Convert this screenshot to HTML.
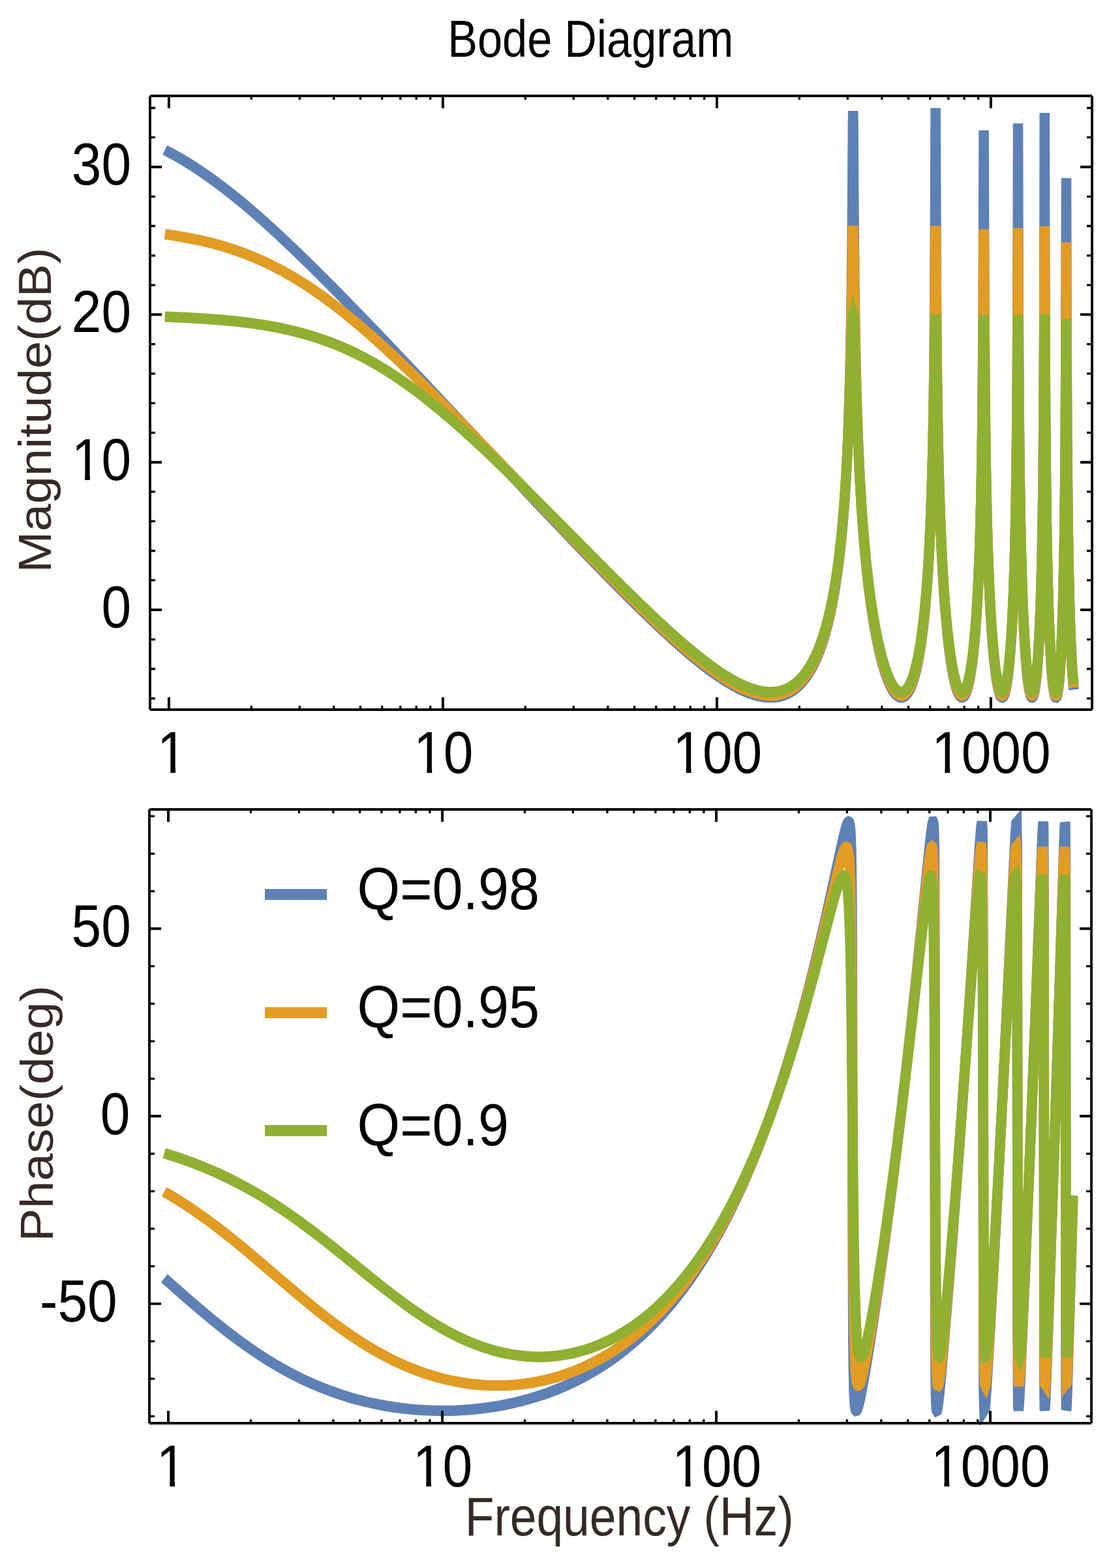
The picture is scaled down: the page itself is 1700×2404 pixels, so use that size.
<!DOCTYPE html>
<html><head><meta charset="utf-8"><title>Bode Diagram</title><style>
html,body{margin:0;padding:0;background:#fff;}
body{width:1700px;height:2404px;overflow:hidden;}
svg{display:block;}
text{font-family:"Liberation Sans",Arial,Helvetica,sans-serif;}
</style></head><body>
<svg width="1700" height="2404" viewBox="0 0 1700 2404">
<defs><clipPath id="cm"><rect x="230" y="147" width="1444" height="941"/></clipPath><clipPath id="cp"><rect x="229" y="1239" width="1444" height="947"/></clipPath></defs>
<g clip-path="url(#cm)"><g transform="scale(1 1.0500)" fill="none" stroke-width="15.50" stroke-linejoin="miter" stroke-miterlimit="4" stroke-linecap="butt">
<path stroke="#5e81b5" d="M252.70 218.89 L264.09 224.66 L275.70 230.92 L287.08 237.42 L298.70 244.42 L310.31 251.78 L322.16 259.66 L334.24 268.05 L346.32 276.79 L358.63 286.04 L371.41 295.98 L384.42 306.44 L397.66 317.40 L425.76 341.61 L456.19 369.02 L482.68 393.68 L511.71 421.39 L543.54 452.37 L579.54 487.97 L650.86 559.54 L829.26 740.15 L872.93 783.91 L910.10 820.69 L946.10 855.70 L977.70 885.66 L1006.04 911.66 L1031.59 934.13 L1044.60 945.11 L1057.14 955.34 L1068.99 964.63 L1080.37 973.16 L1091.29 980.92 L1101.51 987.76 L1111.50 994.00 L1121.02 999.47 L1130.08 1004.19 L1138.91 1008.27 L1147.50 1011.70 L1155.63 1014.37 L1163.53 1016.38 L1170.97 1017.67 L1178.17 1018.30 L1185.14 1018.26 L1189.78 1017.84 L1194.43 1017.07 L1198.84 1016.00 L1203.02 1014.64 L1207.20 1012.93 L1211.39 1010.83 L1215.33 1008.46 L1219.28 1005.69 L1223.00 1002.67 L1226.72 999.24 L1230.20 995.60 L1233.69 991.51 L1237.17 986.95 L1240.42 982.22 L1243.67 976.98 L1246.69 971.62 L1252.50 959.81 L1258.08 946.29 L1263.19 931.59 L1268.07 915.05 L1272.48 897.44 L1276.66 877.86 L1280.38 857.46 L1283.86 835.03 L1286.88 812.26 L1289.67 787.64 L1291.99 763.67 L1294.32 735.49 L1296.41 705.27 L1298.26 673.01 L1299.86 639.52 L1301.27 603.65 L1303.47 527.42 L1305.13 438.30 L1306.20 346.94 L1307.35 186.33 L1307.70 162.10 L1308.05 186.33 L1308.96 319.55 L1309.88 411.06 L1311.09 490.76 L1312.63 560.29 L1314.72 626.63 L1317.31 685.97 L1320.56 741.34 L1324.28 789.58 L1326.60 814.43 L1329.16 838.34 L1331.95 861.22 L1334.97 882.96 L1338.22 903.51 L1341.47 921.60 L1345.19 939.71 L1348.90 955.49 L1352.85 969.98 L1357.03 983.05 L1361.22 993.96 L1365.40 1002.82 L1367.49 1006.50 L1369.58 1009.70 L1371.67 1012.40 L1373.76 1014.61 L1375.85 1016.32 L1377.94 1017.52 L1380.03 1018.21 L1382.12 1018.36 L1383.98 1018.03 L1385.61 1017.37 L1387.47 1016.19 L1389.09 1014.75 L1390.95 1012.64 L1392.58 1010.35 L1395.83 1004.47 L1398.85 997.30 L1401.87 988.27 L1404.66 978.04 L1407.44 965.71 L1410.00 952.25 L1412.32 937.87 L1414.64 921.06 L1416.73 903.39 L1418.59 885.21 L1420.45 864.14 L1422.08 842.70 L1423.70 817.67 L1426.26 768.04 L1428.35 712.47 L1429.96 653.14 L1431.24 586.04 L1432.21 511.49 L1432.95 424.93 L1434.14 157.62 L1435.24 412.45 L1435.88 495.03 L1436.70 566.60 L1437.84 634.99 L1439.27 695.85 L1440.89 747.35 L1442.98 797.52 L1445.77 847.88 L1448.79 889.30 L1452.28 926.07 L1454.13 942.12 L1456.22 957.79 L1458.32 971.25 L1460.64 983.93 L1462.96 994.42 L1465.28 1002.92 L1467.61 1009.51 L1469.93 1014.27 L1471.32 1016.26 L1472.49 1017.42 L1473.65 1018.13 L1474.81 1018.37 L1475.97 1018.15 L1476.90 1017.62 L1478.06 1016.53 L1478.99 1015.29 L1481.08 1011.28 L1483.17 1005.46 L1485.26 997.65 L1487.12 988.84 L1488.98 978.04 L1490.60 966.74 L1492.23 953.42 L1493.86 937.74 L1496.64 903.89 L1498.97 866.36 L1501.06 821.41 L1502.68 774.70 L1504.08 720.79 L1505.17 662.89 L1506.04 597.44 L1507.20 446.99 L1508.09 190.38 L1508.94 438.30 L1509.97 582.84 L1510.76 648.54 L1511.74 707.02 L1512.90 758.39 L1514.30 805.34 L1516.16 852.94 L1518.25 893.69 L1520.57 928.53 L1523.36 960.21 L1524.75 972.84 L1526.38 985.30 L1528.00 995.55 L1529.63 1003.78 L1531.26 1010.12 L1532.88 1014.64 L1533.81 1016.43 L1534.74 1017.64 L1535.67 1018.27 L1536.37 1018.36 L1537.30 1017.97 L1537.99 1017.28 L1539.39 1014.86 L1541.01 1010.20 L1542.41 1004.53 L1543.80 997.16 L1545.19 987.92 L1547.75 965.30 L1550.07 936.65 L1552.16 901.71 L1554.02 859.83 L1555.41 818.08 L1556.58 772.43 L1557.51 724.33 L1558.39 662.28 L1559.08 591.56 L1559.93 438.70 L1560.57 180.29 L1561.18 430.89 L1561.94 578.04 L1563.31 707.08 L1564.24 761.12 L1565.17 802.57 L1566.57 850.47 L1568.19 892.68 L1570.05 929.29 L1572.14 960.28 L1574.46 985.41 L1575.62 994.99 L1577.02 1004.15 L1578.18 1009.99 L1579.57 1014.94 L1580.27 1016.60 L1580.97 1017.71 L1581.66 1018.29 L1582.13 1018.37 L1582.83 1018.03 L1583.52 1017.14 L1584.68 1014.39 L1585.85 1009.98 L1587.01 1003.81 L1589.10 987.72 L1591.19 963.95 L1593.05 934.37 L1594.67 899.35 L1596.07 859.34 L1597.23 815.09 L1598.85 722.10 L1600.13 584.54 L1600.79 427.08 L1601.27 164.76 L1601.96 493.82 L1602.51 600.23 L1603.27 689.22 L1604.43 774.02 L1605.82 840.51 L1607.45 894.22 L1609.54 942.21 L1611.86 978.24 L1613.02 991.26 L1614.19 1001.49 L1615.35 1009.19 L1616.74 1015.31 L1617.44 1017.13 L1618.13 1018.14 L1618.83 1018.34 L1619.53 1017.73 L1620.23 1016.27 L1620.92 1013.97 L1622.08 1008.12 L1623.48 997.55 L1624.64 985.40 L1626.73 954.12 L1628.59 912.42 L1629.98 867.82 L1631.14 816.20 L1632.07 758.40 L1632.77 697.33 L1633.79 537.34 L1634.53 260.10 L1635.07 482.89 L1635.53 596.03 L1636.25 695.91 L1637.42 790.77 L1639.04 870.97 L1640.90 929.24 L1642.06 955.26 L1643.22 975.62 L1644.62 994.05 L1646.01 1006.94"/>
<path stroke="#e19c24" d="M252.70 342.03 L271.98 344.73 L290.34 347.79 L307.99 351.26 L324.95 355.13 L341.44 359.46 L357.47 364.24 L373.03 369.48 L388.36 375.25 L403.70 381.63 L418.79 388.56 L433.89 396.12 L448.99 404.32 L464.09 413.16 L479.42 422.76 L494.99 433.14 L510.78 444.29 L525.65 455.31 L540.75 467.00 L556.31 479.51 L572.57 493.06 L589.30 507.43 L606.95 523.03 L625.54 539.87 L645.05 557.93 L681.52 592.53 L723.80 633.63 L766.77 676.06 L877.11 785.77 L907.78 815.94 L934.49 841.91 L963.53 869.66 L989.31 893.71 L1012.77 914.93 L1034.14 933.53 L1046.69 944.04 L1058.54 953.65 L1069.92 962.52 L1080.84 970.67 L1091.06 977.93 L1101.05 984.62 L1110.57 990.60 L1119.86 995.98 L1128.69 1000.64 L1137.28 1004.71 L1145.41 1008.06 L1153.31 1010.81 L1160.98 1012.94 L1168.18 1014.40 L1175.38 1015.28 L1182.12 1015.51 L1186.53 1015.31 L1190.71 1014.86 L1194.89 1014.12 L1199.07 1013.07 L1203.02 1011.78 L1206.97 1010.18 L1210.69 1008.35 L1214.41 1006.20 L1218.12 1003.69 L1221.61 1001.00 L1225.09 997.95 L1228.34 994.75 L1231.60 991.18 L1234.85 987.21 L1240.89 978.67 L1246.69 968.80 L1252.04 958.02 L1257.15 945.91 L1262.03 932.37 L1266.67 917.30 L1270.85 901.52 L1274.80 884.26 L1278.52 865.41 L1281.54 847.78 L1284.56 827.56 L1287.35 806.00 L1289.90 783.12 L1292.22 758.96 L1294.32 733.65 L1296.17 707.41 L1298.03 676.44 L1300.80 617.27 L1303.05 549.63 L1304.85 472.50 L1306.89 353.70 L1307.70 329.62 L1308.51 353.70 L1310.33 462.70 L1311.75 530.16 L1313.33 587.37 L1315.19 638.86 L1317.54 689.30 L1320.56 739.43 L1324.05 784.60 L1328.00 825.35 L1330.55 847.56 L1333.11 867.26 L1335.90 886.41 L1338.68 903.50 L1341.70 920.04 L1344.96 935.87 L1348.21 949.89 L1351.69 963.13 L1355.18 974.69 L1358.89 985.32 L1362.61 994.29 L1366.56 1002.08 L1368.42 1005.13 L1370.51 1008.11 L1372.37 1010.34 L1374.22 1012.18 L1376.08 1013.62 L1377.94 1014.66 L1379.80 1015.30 L1381.66 1015.51 L1383.28 1015.35 L1384.91 1014.84 L1386.54 1013.98 L1388.16 1012.76 L1391.18 1009.48 L1394.20 1004.79 L1396.99 999.07 L1399.78 991.89 L1402.56 983.05 L1405.12 973.31 L1407.68 961.76 L1410.00 949.44 L1412.09 936.62 L1414.18 921.87 L1416.04 906.84 L1417.90 889.63 L1421.15 852.72 L1423.94 811.29 L1426.26 765.88 L1428.12 717.95 L1429.73 662.27 L1430.93 605.66 L1431.93 541.79 L1432.76 468.25 L1433.73 353.70 L1434.14 329.62 L1434.54 353.70 L1436.19 532.26 L1437.03 590.89 L1438.02 643.57 L1439.27 694.56 L1440.89 745.37 L1442.75 790.26 L1444.84 830.14 L1447.63 871.96 L1450.65 907.37 L1454.13 939.33 L1455.99 953.35 L1457.85 965.61 L1459.94 977.53 L1462.03 987.63 L1464.12 996.07 L1466.21 1002.93 L1468.30 1008.27 L1470.63 1012.49 L1471.79 1013.92 L1472.72 1014.74 L1473.88 1015.35 L1474.81 1015.51 L1475.97 1015.29 L1476.90 1014.77 L1478.76 1012.78 L1480.62 1009.47 L1482.47 1004.76 L1484.33 998.53 L1486.19 990.63 L1487.82 982.20 L1489.44 972.17 L1492.46 948.53 L1495.25 919.30 L1497.57 887.40 L1499.66 850.21 L1501.52 806.94 L1502.92 764.66 L1504.08 719.12 L1505.17 662.27 L1506.60 545.31 L1507.79 359.06 L1508.09 334.95 L1508.40 359.06 L1509.52 538.44 L1510.77 648.81 L1511.74 705.55 L1512.67 747.22 L1514.07 795.96 L1515.46 834.09 L1517.32 874.23 L1519.41 909.50 L1521.73 940.09 L1524.29 966.02 L1527.07 987.11 L1528.47 995.26 L1530.09 1002.93 L1531.49 1008.02 L1533.11 1012.29 L1534.74 1014.78 L1535.44 1015.31 L1536.13 1015.51 L1536.83 1015.38 L1537.53 1014.92 L1538.92 1012.97 L1540.32 1009.59 L1541.71 1004.71 L1543.10 998.22 L1544.26 991.45 L1546.82 971.64 L1548.91 949.29 L1551.00 919.63 L1552.86 884.75 L1554.49 844.54 L1555.65 807.47 L1556.81 759.49 L1558.44 657.40 L1559.47 541.57 L1560.57 333.24 L1561.64 539.34 L1562.62 653.03 L1564.24 759.02 L1565.17 800.18 L1566.33 840.81 L1567.73 879.09 L1569.35 913.98 L1571.21 944.83 L1573.07 968.55 L1575.16 988.53 L1576.32 997.03 L1577.48 1003.83 L1578.64 1009.03 L1579.81 1012.70 L1580.97 1014.85 L1581.66 1015.43 L1582.13 1015.51 L1582.83 1015.17 L1583.29 1014.64 L1584.45 1012.21 L1585.61 1008.15 L1586.54 1003.65 L1588.63 989.06 L1590.49 970.03 L1592.35 943.77 L1593.98 912.87 L1595.37 878.08 L1596.53 840.54 L1597.46 802.15 L1598.39 752.12 L1599.60 653.40 L1600.41 537.76 L1601.27 330.48 L1602.42 588.26 L1603.04 665.54 L1603.96 742.74 L1605.13 808.06 L1606.75 870.80 L1608.61 920.35 L1610.93 962.77 L1613.02 988.42 L1614.19 998.65 L1615.35 1006.34 L1616.51 1011.66 L1617.21 1013.76 L1617.90 1015.04 L1618.60 1015.51 L1619.06 1015.37 L1619.76 1014.48 L1620.23 1013.42 L1621.39 1009.08 L1622.55 1002.20 L1623.71 992.54 L1624.64 982.57 L1626.50 955.48 L1628.36 915.80 L1629.75 873.65 L1630.91 825.46 L1631.84 772.59 L1632.54 718.45 L1633.58 586.48 L1634.53 353.90 L1635.78 636.12 L1636.49 717.64 L1637.65 802.48 L1639.27 877.04 L1641.13 932.18 L1642.29 956.93 L1643.45 976.29 L1644.62 991.21 L1646.01 1004.09"/>
<path stroke="#8fb032" d="M252.70 462.47 L284.53 463.73 L313.33 465.30 L339.58 467.20 L363.97 469.47 L386.74 472.15 L408.34 475.28 L428.78 478.89 L448.30 483.00 L467.34 487.73 L485.70 493.03 L503.58 498.96 L521.24 505.60 L538.43 512.88 L555.62 520.96 L572.81 529.88 L590.00 539.61 L605.56 549.12 L621.12 559.28 L637.15 570.37 L653.65 582.41 L670.60 595.41 L688.02 609.36 L706.14 624.44 L725.19 640.83 L741.92 655.62 L759.34 671.36 L798.36 707.60 L836.69 744.07 L929.84 833.68 L954.47 857.04 L976.07 877.21 L999.07 898.22 L1019.97 916.76 L1039.26 933.25 L1056.91 947.68 L1076.65 962.87 L1085.95 969.59 L1094.77 975.69 L1103.37 981.33 L1111.73 986.49 L1119.86 991.16 L1127.53 995.23 L1135.19 998.93 L1142.39 1002.03 L1149.36 1004.65 L1156.10 1006.79 L1162.60 1008.46 L1169.11 1009.69 L1175.15 1010.40 L1181.19 1010.65 L1185.14 1010.54 L1189.09 1010.21 L1193.03 1009.62 L1196.75 1008.84 L1200.47 1007.80 L1204.18 1006.49 L1207.67 1005.01 L1211.15 1003.25 L1214.64 1001.21 L1217.89 999.02 L1224.16 993.97 L1230.20 987.94 L1236.01 980.90 L1241.58 972.81 L1246.69 964.06 L1251.81 953.83 L1256.45 943.02 L1261.10 930.52 L1265.28 917.54 L1269.23 903.50 L1272.94 888.37 L1276.20 873.32 L1279.45 856.20 L1282.24 839.54 L1285.02 820.64 L1287.58 800.87 L1289.90 780.40 L1291.99 759.42 L1294.08 735.42 L1297.34 689.94 L1299.98 642.44 L1302.55 583.09 L1306.22 478.92 L1307.00 464.10 L1307.36 460.54 L1307.70 459.37 L1308.06 460.66 L1308.43 464.49 L1309.24 480.61 L1312.63 580.89 L1314.75 634.44 L1316.62 673.38 L1318.71 710.12 L1321.49 750.73 L1324.75 789.54 L1328.46 825.97 L1332.41 858.06 L1334.73 874.49 L1337.29 890.84 L1340.08 906.91 L1342.86 921.37 L1345.65 934.40 L1348.67 947.08 L1351.69 958.41 L1354.94 969.22 L1358.20 978.67 L1361.45 986.85 L1364.70 993.81 L1368.19 999.93 L1371.67 1004.70 L1374.92 1007.91 L1376.78 1009.20 L1378.41 1010.00 L1380.03 1010.48 L1381.66 1010.65 L1383.28 1010.48 L1384.68 1010.07 L1387.47 1008.47 L1390.25 1005.78 L1393.04 1001.92 L1395.83 996.79 L1398.38 990.86 L1400.94 983.62 L1403.26 975.79 L1405.58 966.61 L1407.68 957.05 L1409.77 946.09 L1411.86 933.53 L1415.57 906.33 L1418.83 875.84 L1421.61 842.69 L1423.94 807.97 L1426.03 768.63 L1427.88 723.99 L1429.28 681.46 L1430.43 637.73 L1431.62 580.57 L1433.31 483.23 L1434.14 459.33 L1434.96 483.23 L1437.03 602.57 L1438.80 679.16 L1440.89 743.80 L1443.22 796.84 L1444.84 826.51 L1446.47 851.83 L1448.33 876.67 L1450.42 900.52 L1452.74 922.95 L1455.06 941.93 L1457.62 959.45 L1460.17 973.97 L1462.26 983.85 L1464.59 992.90 L1466.91 1000.03 L1469.23 1005.33 L1470.39 1007.29 L1471.56 1008.81 L1472.72 1009.88 L1473.88 1010.49 L1475.04 1010.64 L1476.20 1010.32 L1477.36 1009.53 L1478.53 1008.24 L1479.69 1006.44 L1480.85 1004.11 L1482.94 998.51 L1485.03 990.96 L1486.89 982.41 L1488.75 971.92 L1490.60 959.20 L1492.46 943.87 L1494.09 927.92 L1496.88 893.49 L1499.20 855.33 L1501.29 809.69 L1502.92 762.45 L1504.31 708.48 L1505.32 656.92 L1506.30 590.35 L1507.54 483.83 L1508.09 460.00 L1508.65 483.83 L1510.57 640.59 L1512.21 726.70 L1513.37 770.78 L1514.76 812.67 L1516.39 851.44 L1518.25 886.66 L1520.57 921.21 L1522.89 948.08 L1525.68 972.65 L1528.47 990.44 L1529.86 997.12 L1531.49 1003.18 L1532.88 1006.93 L1534.51 1009.67 L1535.44 1010.45 L1536.13 1010.65 L1536.83 1010.52 L1537.53 1010.06 L1538.46 1008.91 L1539.15 1007.65 L1540.55 1004.04 L1542.64 995.74 L1544.73 983.58 L1546.59 969.00 L1548.45 950.13 L1550.07 929.28 L1551.70 903.22 L1553.09 875.43 L1554.25 847.08 L1556.11 787.01 L1557.74 708.47 L1558.79 632.01 L1560.15 483.83 L1560.57 460.00 L1560.99 483.83 L1562.39 637.60 L1563.55 719.94 L1565.17 797.08 L1567.26 863.24 L1568.66 895.70 L1570.28 925.86 L1571.91 949.78 L1573.77 971.17 L1575.86 989.03 L1577.95 1001.25 L1578.88 1005.04 L1580.04 1008.39 L1581.20 1010.24 L1582.13 1010.64 L1582.83 1010.31 L1583.29 1009.78 L1584.22 1007.97 L1585.15 1005.13 L1586.08 1001.20 L1587.94 989.84 L1589.56 975.56 L1591.19 956.43 L1592.81 931.21 L1594.21 903.25 L1595.37 873.87 L1597.23 809.29 L1598.85 719.88 L1599.81 636.34 L1600.94 483.23 L1601.27 459.33 L1601.60 483.23 L1602.75 639.35 L1603.73 725.45 L1605.13 804.80 L1606.98 873.83 L1608.15 905.11 L1609.54 934.81 L1610.93 958.05 L1612.56 978.79 L1614.19 993.82 L1615.81 1003.90 L1616.51 1006.81 L1617.44 1009.41 L1618.37 1010.58 L1618.83 1010.62 L1619.30 1010.30 L1620.23 1008.56 L1620.92 1006.26 L1622.55 997.37 L1623.94 985.44 L1625.34 968.87 L1626.50 950.80 L1627.66 927.91 L1629.75 869.49 L1631.38 797.99 L1632.54 718.00 L1633.27 640.97 L1634.21 489.53 L1634.53 465.71 L1634.84 489.53 L1635.56 611.86 L1636.25 695.47 L1637.18 770.75 L1638.34 834.94 L1639.74 888.76 L1641.60 938.18 L1643.69 974.83 L1644.85 988.91 L1646.01 999.25"/>
</g></g>
<g clip-path="url(#cp)"><g transform="scale(1 1.0500)" fill="none" stroke-width="15.50" stroke-linejoin="miter" stroke-miterlimit="4" stroke-linecap="butt">
<path stroke="#5e81b5" d="M251.80 1866.40 L284.32 1893.72 L307.32 1912.62 L328.46 1929.41 L347.97 1944.23 L367.49 1958.28 L386.30 1971.00 L404.89 1982.71 L423.47 1993.55 L442.75 2003.85 L462.03 2013.18 L481.54 2021.67 L501.06 2029.22 L521.03 2036.00 L541.24 2041.93 L561.69 2047.01 L582.36 2051.25 L593.74 2053.21 L605.12 2054.91 L616.74 2056.39 L628.35 2057.60 L639.97 2058.56 L651.58 2059.27 L663.20 2059.72 L675.05 2059.92 L686.89 2059.86 L698.51 2059.55 L710.12 2058.98 L721.74 2058.16 L733.35 2057.08 L744.73 2055.76 L756.12 2054.18 L767.50 2052.33 L778.65 2050.26 L789.57 2047.97 L800.48 2045.41 L811.17 2042.63 L821.86 2039.58 L832.31 2036.32 L842.53 2032.86 L852.75 2029.12 L862.74 2025.18 L872.73 2020.95 L882.49 2016.52 L892.01 2011.90 L901.53 2006.98 L910.83 2001.87 L920.12 1996.45 L929.18 1990.86 L944.74 1980.47 L959.84 1969.41 L974.71 1957.48 L989.11 1944.89 L1003.28 1931.41 L1016.98 1917.28 L1030.46 1902.26 L1043.70 1886.33 L1056.47 1869.78 L1069.02 1852.32 L1081.33 1833.94 L1093.41 1814.63 L1105.26 1794.39 L1116.64 1773.64 L1127.79 1751.99 L1138.94 1728.97 L1149.39 1706.06 L1159.61 1682.34 L1169.60 1657.83 L1179.36 1632.56 L1189.11 1605.90 L1198.64 1578.46 L1207.93 1550.29 L1217.22 1520.65 L1224.89 1495.07 L1232.55 1468.41 L1239.99 1441.50 L1247.42 1413.52 L1256.48 1377.96 L1265.77 1339.83 L1274.60 1302.16 L1288.77 1240.12 L1293.18 1221.62 L1295.74 1211.87 L1297.83 1205.07 L1299.49 1201.14 L1300.21 1200.15 L1300.84 1199.78 L1301.35 1199.98 L1301.82 1200.66 L1302.64 1203.50 L1303.33 1208.41 L1303.91 1215.57 L1304.80 1237.52 L1305.44 1272.12 L1305.91 1323.91 L1306.26 1399.25 L1307.22 1821.94 L1307.85 1957.40 L1308.40 2004.07 L1309.17 2034.17 L1309.67 2044.33 L1310.27 2051.80 L1310.99 2056.79 L1311.85 2059.42 L1312.37 2059.91 L1312.95 2059.77 L1313.58 2059.02 L1314.28 2057.63 L1315.95 2052.68 L1317.81 2045.49 L1320.13 2035.02 L1322.92 2021.13 L1329.65 1984.11 L1337.55 1936.91 L1345.91 1883.64 L1354.51 1825.77 L1363.10 1764.83 L1369.84 1714.91 L1376.58 1663.06 L1389.82 1555.35 L1397.25 1491.45 L1404.92 1422.95 L1425.36 1231.90 L1428.38 1207.73 L1429.37 1202.11 L1430.16 1199.85 L1430.43 1199.84 L1430.67 1200.34 L1431.10 1202.87 L1431.75 1214.40 L1432.22 1236.04 L1432.54 1270.32 L1432.96 1397.61 L1433.44 1821.94 L1433.77 1958.80 L1434.05 2005.39 L1434.44 2035.18 L1435.01 2052.43 L1435.38 2057.18 L1435.83 2059.58 L1436.06 2059.92 L1436.32 2059.80 L1436.89 2058.16 L1438.37 2049.06 L1440.46 2030.94 L1443.01 2005.43 L1451.14 1915.21 L1460.67 1800.85 L1469.96 1682.49 L1479.48 1554.55 L1487.85 1436.84 L1501.61 1236.88 L1503.41 1213.76 L1504.31 1204.53 L1505.21 1199.79 L1506.11 1210.68 L1507.01 1399.32 L1507.91 2028.10 L1508.81 2058.98 L1509.71 2057.66 L1510.61 2049.26 L1512.41 2025.65 L1517.35 1948.19 L1524.08 1833.40 L1531.05 1708.66 L1538.02 1578.73 L1554.98 1246.61 L1556.38 1221.27 L1557.78 1201.85 L1558.48 1201.07 L1559.18 1238.82 L1559.88 1927.08 L1560.58 2053.13 L1561.28 2059.58 L1561.98 2052.94 L1562.68 2042.26 L1564.08 2016.32 L1571.70 1851.05 L1582.39 1599.95 L1596.67 1245.61 L1598.17 1212.63 L1598.67 1204.21 L1599.17 1199.81 L1599.67 1207.93 L1600.17 1308.83 L1600.67 1997.83 L1601.17 2055.62 L1601.67 2059.52 L1602.67 2044.57 L1604.67 1997.15 L1607.71 1916.17 L1617.47 1638.34 L1630.43 1249.10 L1631.43 1221.61 L1632.43 1201.16 L1632.93 1203.12 L1633.43 1286.10 L1633.93 2014.33 L1634.43 2058.81 L1634.93 2057.16 L1635.43 2047.39 L1636.93 2005.97 L1644.71 1751.05"/>
<path stroke="#e19c24" d="M251.80 1739.96 L273.17 1752.25 L294.55 1765.58 L316.38 1780.22 L338.91 1796.35 L358.43 1811.05 L379.57 1827.60 L449.02 1883.97 L474.81 1904.45 L488.51 1914.98 L501.29 1924.51 L513.60 1933.38 L525.45 1941.60 L539.39 1950.84 L552.86 1959.30 L566.33 1967.27 L579.57 1974.60 L592.81 1981.43 L605.82 1987.63 L618.83 1993.33 L631.84 1998.52 L649.26 2004.69 L666.92 2010.02 L684.57 2014.44 L702.22 2017.94 L719.88 2020.55 L737.77 2022.27 L746.82 2022.80 L755.65 2023.08 L773.31 2022.97 L782.13 2022.57 L790.96 2021.95 L808.38 2020.04 L817.21 2018.72 L825.81 2017.20 L834.40 2015.45 L842.99 2013.47 L851.59 2011.24 L859.95 2008.84 L876.45 2003.41 L884.81 2000.28 L892.94 1997.00 L908.97 1989.79 L924.76 1981.68 L940.33 1972.65 L955.43 1962.86 L970.29 1952.14 L984.93 1940.49 L999.10 1928.09 L1013.03 1914.75 L1026.51 1900.71 L1039.75 1885.72 L1052.76 1869.79 L1065.53 1852.90 L1078.08 1835.02 L1090.39 1816.16 L1102.24 1796.71 L1113.85 1776.30 L1125.47 1754.51 L1135.92 1733.62 L1146.37 1711.48 L1156.59 1688.54 L1166.58 1664.82 L1176.34 1640.36 L1186.09 1614.54 L1195.62 1587.99 L1204.91 1560.72 L1214.20 1532.07 L1223.49 1501.97 L1232.55 1471.20 L1241.61 1439.00 L1249.05 1411.52 L1256.71 1382.22 L1281.34 1283.91 L1288.30 1257.68 L1291.32 1247.82 L1293.88 1241.05 L1295.04 1238.75 L1295.97 1237.41 L1296.90 1236.67 L1297.60 1236.60 L1298.34 1237.13 L1299.02 1238.30 L1300.22 1242.58 L1301.24 1249.59 L1302.12 1259.49 L1302.88 1272.61 L1303.53 1289.29 L1304.58 1335.05 L1305.28 1388.76 L1305.88 1461.50 L1307.98 1834.38 L1308.69 1903.91 L1309.56 1953.39 L1310.62 1986.47 L1311.27 1998.66 L1312.00 2008.15 L1312.84 2015.21 L1313.80 2020.00 L1314.34 2021.57 L1314.91 2022.60 L1315.48 2023.08 L1316.18 2023.06 L1316.88 2022.49 L1317.57 2021.48 L1318.97 2018.42 L1320.83 2012.74 L1322.68 2005.80 L1327.10 1986.04 L1332.44 1958.35 L1338.71 1922.58 L1345.45 1881.35 L1352.65 1834.66 L1360.08 1783.90 L1367.05 1734.07 L1374.02 1682.11 L1380.99 1628.05 L1388.19 1569.97 L1400.27 1467.65 L1418.16 1308.12 L1422.80 1268.58 L1424.66 1254.50 L1426.29 1244.11 L1427.68 1237.99 L1428.15 1236.92 L1428.61 1236.57 L1428.98 1236.97 L1429.32 1238.02 L1429.93 1242.14 L1430.44 1249.01 L1430.89 1258.83 L1431.59 1288.57 L1432.12 1334.35 L1432.77 1460.65 L1433.83 1834.38 L1434.61 1952.90 L1435.14 1985.96 L1435.83 2007.62 L1436.72 2019.67 L1437.27 2022.43 L1437.54 2022.99 L1437.90 2023.11 L1438.37 2022.43 L1439.06 2020.08 L1440.69 2010.64 L1442.55 1996.00 L1444.64 1976.86 L1450.45 1916.46 L1457.65 1834.04 L1466.24 1728.97 L1475.30 1611.82 L1482.97 1508.15 L1499.46 1279.17 L1502.34 1246.28 L1503.34 1238.82 L1503.84 1236.86 L1504.34 1236.90 L1504.84 1240.18 L1505.34 1249.16 L1505.84 1269.48 L1506.34 1316.73 L1506.84 1442.88 L1507.84 1907.94 L1508.34 1976.75 L1508.84 2004.84 L1509.34 2017.24 L1509.84 2022.19 L1510.34 2023.09 L1510.84 2021.53 L1511.84 2014.14 L1514.10 1987.62 L1517.35 1940.06 L1521.76 1868.83 L1527.80 1765.23 L1534.54 1644.09 L1553.59 1284.63 L1556.02 1246.59 L1557.02 1237.42 L1557.52 1236.84 L1558.02 1242.06 L1558.52 1260.02 L1559.02 1314.29 L1559.52 1512.91 L1560.02 1859.30 L1560.52 1975.26 L1561.02 2009.62 L1561.52 2020.94 L1562.02 2023.11 L1562.52 2020.79 L1563.02 2015.92 L1565.02 1984.95 L1570.31 1877.31 L1579.84 1660.96 L1594.84 1299.98 L1596.94 1255.39 L1597.64 1243.87 L1598.34 1236.97 L1599.04 1241.79 L1599.74 1292.55 L1600.44 1700.44 L1601.14 1986.53 L1601.84 2020.77 L1602.54 2021.76 L1603.24 2013.10 L1604.64 1985.45 L1608.41 1891.34 L1615.84 1685.00 L1629.40 1289.94 L1631.20 1246.68 L1632.10 1236.57 L1633.00 1275.09 L1633.90 1880.96 L1634.80 2019.67 L1635.70 2018.63 L1637.50 1977.17 L1640.46 1887.68 L1644.71 1749.05"/>
<path stroke="#8fb032" d="M251.80 1683.82 L272.94 1690.27 L293.62 1697.28 L313.59 1704.76 L333.34 1712.88 L352.62 1721.55 L371.67 1730.88 L390.72 1740.97 L409.53 1751.72 L425.79 1761.61 L442.52 1772.36 L459.48 1783.81 L477.36 1796.44 L492.93 1807.83 L510.12 1820.76 L566.56 1864.30 L587.70 1880.35 L609.31 1896.17 L629.05 1909.91 L640.43 1917.43 L651.58 1924.49 L662.27 1930.93 L672.95 1937.05 L683.41 1942.69 L693.63 1947.87 L703.85 1952.70 L714.07 1957.18 L727.31 1962.45 L740.32 1967.01 L753.33 1970.95 L766.34 1974.27 L779.35 1976.96 L792.12 1978.97 L805.13 1980.38 L817.91 1981.12 L830.68 1981.22 L843.46 1980.68 L856.00 1979.49 L868.55 1977.67 L880.86 1975.23 L893.17 1972.13 L905.48 1968.37 L917.56 1964.01 L931.96 1957.91 L946.13 1950.91 L960.07 1943.03 L973.78 1934.27 L987.25 1924.62 L1000.49 1914.09 L1013.50 1902.69 L1026.28 1890.40 L1038.82 1877.23 L1051.13 1863.19 L1063.21 1848.27 L1075.06 1832.48 L1086.67 1815.82 L1098.29 1797.92 L1109.44 1779.52 L1120.59 1759.86 L1130.34 1741.56 L1140.10 1722.20 L1149.62 1702.22 L1159.15 1681.12 L1168.44 1659.42 L1177.50 1637.15 L1186.56 1613.74 L1195.62 1589.15 L1204.68 1563.35 L1213.74 1536.29 L1222.80 1507.97 L1231.86 1478.38 L1246.26 1428.83 L1272.97 1331.81 L1277.62 1315.52 L1281.34 1303.27 L1285.28 1291.62 L1288.54 1283.86 L1289.93 1281.34 L1291.32 1279.50 L1292.49 1278.62 L1293.65 1278.52 L1294.58 1279.13 L1295.27 1280.10 L1296.20 1282.20 L1296.90 1284.52 L1298.29 1291.65 L1299.51 1301.70 L1300.56 1314.60 L1301.50 1330.73 L1303.09 1374.25 L1304.19 1423.14 L1305.20 1487.36 L1307.86 1729.14 L1308.88 1806.88 L1310.03 1868.89 L1311.35 1914.34 L1312.87 1945.64 L1313.75 1957.27 L1314.73 1966.52 L1315.95 1974.07 L1317.11 1978.37 L1317.81 1979.91 L1318.50 1980.84 L1319.20 1981.23 L1319.90 1981.17 L1320.59 1980.72 L1321.29 1979.93 L1322.68 1977.49 L1324.31 1973.48 L1325.94 1968.47 L1329.65 1954.34 L1334.07 1934.17 L1338.95 1909.01 L1344.52 1877.59 L1350.56 1841.07 L1356.83 1800.87 L1363.34 1757.03 L1369.84 1711.16 L1376.34 1663.37 L1383.08 1611.93 L1394.23 1522.75 L1413.51 1360.97 L1419.09 1316.56 L1421.64 1298.65 L1423.73 1286.61 L1425.36 1280.24 L1426.06 1278.80 L1426.52 1278.46 L1426.75 1278.50 L1427.22 1279.12 L1427.68 1280.56 L1428.38 1284.74 L1429.04 1291.81 L1429.62 1301.64 L1430.60 1330.73 L1431.39 1374.25 L1432.43 1486.92 L1434.26 1805.00 L1434.84 1867.14 L1435.49 1912.81 L1436.25 1944.32 L1437.18 1965.50 L1437.67 1972.09 L1438.37 1977.84 L1439.06 1980.60 L1439.30 1981.02 L1439.76 1981.25 L1440.23 1980.78 L1440.92 1979.05 L1442.32 1972.84 L1443.94 1962.46 L1446.03 1946.00 L1450.91 1899.99 L1457.18 1832.56 L1464.38 1748.63 L1472.51 1648.00 L1496.44 1333.74 L1499.93 1295.01 L1501.09 1285.35 L1502.24 1279.29 L1503.34 1279.66 L1504.44 1292.58 L1505.54 1337.41 L1506.64 1483.56 L1507.74 1776.53 L1508.84 1923.34 L1509.94 1968.01 L1511.04 1980.40 L1512.14 1979.96 L1513.40 1972.01 L1514.56 1960.77 L1517.35 1925.97 L1520.83 1874.81 L1525.94 1792.48 L1531.98 1688.94 L1551.50 1336.55 L1553.12 1310.62 L1554.52 1291.66 L1555.52 1281.88 L1556.02 1279.10 L1556.52 1278.60 L1557.02 1281.56 L1557.52 1290.13 L1558.02 1308.53 L1558.52 1345.87 L1559.02 1422.82 L1560.52 1875.17 L1561.02 1932.79 L1561.52 1960.87 L1562.02 1974.44 L1562.52 1980.14 L1563.02 1981.19 L1563.52 1979.27 L1564.02 1975.33 L1565.52 1956.41 L1567.52 1922.56 L1569.85 1877.73 L1577.74 1707.55 L1593.77 1338.42 L1595.12 1311.21 L1596.52 1288.01 L1597.22 1280.53 L1597.92 1278.81 L1598.62 1289.16 L1599.32 1330.65 L1600.02 1476.18 L1600.72 1783.77 L1601.42 1929.69 L1602.12 1971.05 L1602.82 1981.02 L1603.52 1978.76 L1604.92 1959.07 L1606.55 1925.55 L1608.41 1881.46 L1614.68 1715.62 L1627.78 1347.98 L1629.78 1300.01 L1630.78 1282.97 L1631.28 1278.76 L1631.78 1280.34 L1632.28 1293.46 L1632.78 1333.79 L1633.28 1452.33 L1634.28 1893.61 L1634.78 1955.47 L1635.28 1976.36 L1635.78 1981.25 L1636.28 1978.54 L1637.28 1962.24 L1638.28 1938.95 L1640.93 1864.17 L1644.71 1745.56"/>
</g></g>
<path d="M406 1371.4H501.2" stroke="#5e81b5" stroke-width="16.8"/>
<path d="M406 1552.6H501.2" stroke="#e19c24" stroke-width="16.8"/>
<path d="M406 1733.5H501.2" stroke="#8fb032" stroke-width="16.8"/>
<g stroke="#000" stroke-width="3.8" fill="none">
<path d="M230 147H1674M230 1088H1674M230 147V1088M1674 147V1088"/>
<path d="M229 1241H1673M229 2182H1673M229 1241V2182M1673 1241V2182"/>
<path stroke-width="3.9" d="M258.9 1088.0V1069.0M258.9 147.0V166.0M678.9 1088.0V1069.0M678.9 147.0V166.0M1098.9 1088.0V1069.0M1098.9 147.0V166.0M1518.9 1088.0V1069.0M1518.9 147.0V166.0M258.0 2182.0V2163.0M258.0 1241.0V1260.0M678.0 2182.0V2163.0M678.0 1241.0V1260.0M1098.0 2182.0V2163.0M1098.0 1241.0V1260.0M1518.0 2182.0V2163.0M1518.0 1241.0V1260.0M230.0 935.0H248.0M1674.0 935.0H1656.0M230.0 708.7H248.0M1674.0 708.7H1656.0M230.0 482.3H248.0M1674.0 482.3H1656.0M230.0 256.0H248.0M1674.0 256.0H1656.0M229.0 1998.9H247.0M1673.0 1998.9H1655.0M229.0 1711.3H247.0M1673.0 1711.3H1655.0M229.0 1423.8H247.0M1673.0 1423.8H1655.0"/>
<path stroke-width="3.3" d="M385.3 1088.0V1082.0M385.3 147.0V153.0M459.3 1088.0V1082.0M459.3 147.0V153.0M511.8 1088.0V1082.0M511.8 147.0V153.0M552.5 1088.0V1082.0M552.5 147.0V153.0M585.7 1088.0V1082.0M585.7 147.0V153.0M613.8 1088.0V1082.0M613.8 147.0V153.0M638.2 1088.0V1082.0M638.2 147.0V153.0M659.7 1088.0V1082.0M659.7 147.0V153.0M805.3 1088.0V1082.0M805.3 147.0V153.0M879.3 1088.0V1082.0M879.3 147.0V153.0M931.8 1088.0V1082.0M931.8 147.0V153.0M972.5 1088.0V1082.0M972.5 147.0V153.0M1005.7 1088.0V1082.0M1005.7 147.0V153.0M1033.8 1088.0V1082.0M1033.8 147.0V153.0M1058.2 1088.0V1082.0M1058.2 147.0V153.0M1079.7 1088.0V1082.0M1079.7 147.0V153.0M1225.3 1088.0V1082.0M1225.3 147.0V153.0M1299.3 1088.0V1082.0M1299.3 147.0V153.0M1351.8 1088.0V1082.0M1351.8 147.0V153.0M1392.5 1088.0V1082.0M1392.5 147.0V153.0M1425.7 1088.0V1082.0M1425.7 147.0V153.0M1453.8 1088.0V1082.0M1453.8 147.0V153.0M1478.2 1088.0V1082.0M1478.2 147.0V153.0M1499.7 1088.0V1082.0M1499.7 147.0V153.0M384.4 2182.0V2176.0M384.4 1241.0V1247.0M458.4 2182.0V2176.0M458.4 1241.0V1247.0M510.9 2182.0V2176.0M510.9 1241.0V1247.0M551.6 2182.0V2176.0M551.6 1241.0V1247.0M584.8 2182.0V2176.0M584.8 1241.0V1247.0M612.9 2182.0V2176.0M612.9 1241.0V1247.0M637.3 2182.0V2176.0M637.3 1241.0V1247.0M658.8 2182.0V2176.0M658.8 1241.0V1247.0M804.4 2182.0V2176.0M804.4 1241.0V1247.0M878.4 2182.0V2176.0M878.4 1241.0V1247.0M930.9 2182.0V2176.0M930.9 1241.0V1247.0M971.6 2182.0V2176.0M971.6 1241.0V1247.0M1004.8 2182.0V2176.0M1004.8 1241.0V1247.0M1032.9 2182.0V2176.0M1032.9 1241.0V1247.0M1057.3 2182.0V2176.0M1057.3 1241.0V1247.0M1078.8 2182.0V2176.0M1078.8 1241.0V1247.0M1224.4 2182.0V2176.0M1224.4 1241.0V1247.0M1298.4 2182.0V2176.0M1298.4 1241.0V1247.0M1350.9 2182.0V2176.0M1350.9 1241.0V1247.0M1391.6 2182.0V2176.0M1391.6 1241.0V1247.0M1424.8 2182.0V2176.0M1424.8 1241.0V1247.0M1452.9 2182.0V2176.0M1452.9 1241.0V1247.0M1477.3 2182.0V2176.0M1477.3 1241.0V1247.0M1498.8 2182.0V2176.0M1498.8 1241.0V1247.0M230.0 1070.8H238.0M1674.0 1070.8H1666.0M230.0 1025.5H238.0M1674.0 1025.5H1666.0M230.0 980.3H238.0M1674.0 980.3H1666.0M230.0 889.7H238.0M1674.0 889.7H1666.0M230.0 844.5H238.0M1674.0 844.5H1666.0M230.0 799.2H238.0M1674.0 799.2H1666.0M230.0 753.9H238.0M1674.0 753.9H1666.0M230.0 663.4H238.0M1674.0 663.4H1666.0M230.0 618.1H238.0M1674.0 618.1H1666.0M230.0 572.9H238.0M1674.0 572.9H1666.0M230.0 527.6H238.0M1674.0 527.6H1666.0M230.0 437.1H238.0M1674.0 437.1H1666.0M230.0 391.8H238.0M1674.0 391.8H1666.0M230.0 346.5H238.0M1674.0 346.5H1666.0M230.0 301.3H238.0M1674.0 301.3H1666.0M230.0 210.7H238.0M1674.0 210.7H1666.0M230.0 165.5H238.0M1674.0 165.5H1666.0M229.0 2171.4H237.0M1673.0 2171.4H1665.0M229.0 2113.9H237.0M1673.0 2113.9H1665.0M229.0 2056.4H237.0M1673.0 2056.4H1665.0M229.0 1941.4H237.0M1673.0 1941.4H1665.0M229.0 1883.9H237.0M1673.0 1883.9H1665.0M229.0 1826.4H237.0M1673.0 1826.4H1665.0M229.0 1768.9H237.0M1673.0 1768.9H1665.0M229.0 1653.8H237.0M1673.0 1653.8H1665.0M229.0 1596.3H237.0M1673.0 1596.3H1665.0M229.0 1538.8H237.0M1673.0 1538.8H1665.0M229.0 1481.3H237.0M1673.0 1481.3H1665.0M229.0 1366.3H237.0M1673.0 1366.3H1665.0M229.0 1308.8H237.0M1673.0 1308.8H1665.0M229.0 1251.3H237.0M1673.0 1251.3H1665.0"/>
</g>
<text transform="translate(686.30 87.46) scale(0.8696 1.0000)" font-size="78.8" fill="#000">Bode Diagram</text>
<text transform="translate(109.73 283.34) scale(0.9120 1.0000)" font-size="90.0" fill="#000">30</text>
<text transform="translate(109.73 509.04) scale(0.9120 1.0000)" font-size="90.0" fill="#000">20</text>
<text transform="translate(109.73 735.64) scale(0.9120 1.0000)" font-size="90.0" fill="#000">10</text>
<rect x="115.34" y="727.32" width="14.78" height="10.32" fill="#fff"/>
<rect x="137.87" y="727.32" width="14.99" height="10.32" fill="#fff"/>
<text transform="translate(155.56 962.34) scale(0.9120 1.0000)" font-size="90.0" fill="#000">0</text>
<text transform="translate(109.53 1451.34) scale(0.9120 1.0000)" font-size="90.0" fill="#000">50</text>
<text transform="translate(153.76 1738.64) scale(0.9120 1.0000)" font-size="90.0" fill="#000">0</text>
<text transform="translate(61.09 2026.44) scale(0.9120 1.0000)" font-size="90.0" fill="#000">-50</text>
<text transform="translate(240.86 1185.24) scale(0.9120 1.0000)" font-size="90.0" fill="#000">1</text>
<rect x="246.47" y="1176.92" width="14.78" height="10.32" fill="#fff"/>
<rect x="269.01" y="1176.92" width="14.99" height="10.32" fill="#fff"/>
<text transform="translate(634.03 1185.44) scale(0.9120 1.0000)" font-size="90.0" fill="#000">10</text>
<rect x="639.64" y="1177.12" width="14.78" height="10.32" fill="#fff"/>
<rect x="662.17" y="1177.12" width="14.99" height="10.32" fill="#fff"/>
<text transform="translate(1031.29 1185.04) scale(0.9120 1.0000)" font-size="90.0" fill="#000">100</text>
<rect x="1036.90" y="1176.72" width="14.78" height="10.32" fill="#fff"/>
<rect x="1059.43" y="1176.72" width="14.99" height="10.32" fill="#fff"/>
<text transform="translate(1428.05 1185.04) scale(0.9120 1.0000)" font-size="90.0" fill="#000">1000</text>
<rect x="1433.67" y="1176.72" width="14.78" height="10.32" fill="#fff"/>
<rect x="1456.20" y="1176.72" width="14.99" height="10.32" fill="#fff"/>
<text transform="translate(239.86 2278.54) scale(0.9120 1.0000)" font-size="90.0" fill="#000">1</text>
<rect x="245.47" y="2270.22" width="14.78" height="10.32" fill="#fff"/>
<rect x="268.01" y="2270.22" width="14.99" height="10.32" fill="#fff"/>
<text transform="translate(632.83 2279.44) scale(0.9120 1.0000)" font-size="90.0" fill="#000">10</text>
<rect x="638.44" y="2271.12" width="14.78" height="10.32" fill="#fff"/>
<rect x="660.97" y="2271.12" width="14.99" height="10.32" fill="#fff"/>
<text transform="translate(1030.29 2279.14) scale(0.9120 1.0000)" font-size="90.0" fill="#000">100</text>
<rect x="1035.90" y="2270.82" width="14.78" height="10.32" fill="#fff"/>
<rect x="1058.43" y="2270.82" width="14.99" height="10.32" fill="#fff"/>
<text transform="translate(1427.05 2279.14) scale(0.9120 1.0000)" font-size="90.0" fill="#000">1000</text>
<rect x="1432.67" y="2270.82" width="14.78" height="10.32" fill="#fff"/>
<rect x="1455.20" y="2270.82" width="14.99" height="10.32" fill="#fff"/>
<text transform="translate(78.18 878.00) scale(1.0000 1.0708) rotate(-90)" font-size="71.0" fill="#342a28">Magnitude(dB)</text>
<text transform="translate(80.82 1903.40) scale(1.0000 1.0700) rotate(-90)" font-size="71.0" fill="#342a28">Phase(deg)</text>
<text transform="translate(712.70 2353.97) scale(0.8709 1.0000)" font-size="84.0" fill="#342a28">Frequency (Hz)</text>
<text transform="translate(547.60 1393.84) scale(0.9380 1.0000)" font-size="90.0" fill="#000">Q=0.98</text>
<text transform="translate(547.60 1574.64) scale(0.9380 1.0000)" font-size="90.0" fill="#000">Q=0.95</text>
<text transform="translate(547.60 1756.44) scale(0.9380 1.0000)" font-size="90.0" fill="#000">Q=0.9</text>
</svg>
</body></html>
